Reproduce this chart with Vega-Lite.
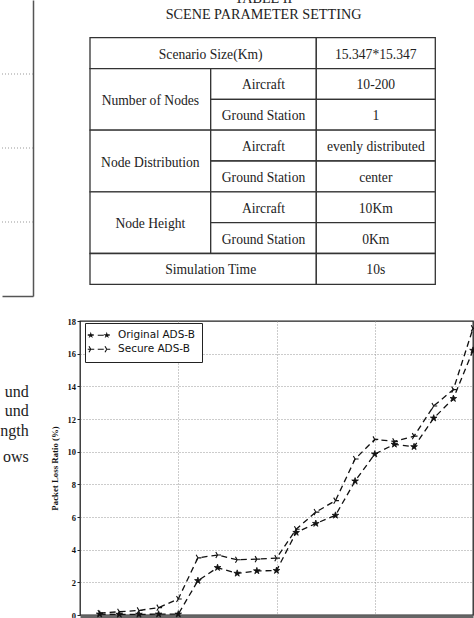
{
  "$schema": "https://vega.github.io/schema/vega-lite/v6.json",
  "padding": 0,
  "background": "white",
  "columns": 2,
  "spacing": {"row": 0, "column": 0},
  "bounds": "flush",
  "resolve": {"legend": {"shape": "independent"}},
  "config": {"view": {"stroke": null}, "font": "Liberation Serif"},
  "datasets": {
    "cells": [
      {"label": "Scenario Size(Km)", "c0": 0, "c1": 2, "r0": 0, "r1": 1},
      {"label": "15.347*15.347", "c0": 2, "c1": 3, "r0": 0, "r1": 1},
      {"label": "Number of Nodes", "c0": 0, "c1": 1, "r0": 1, "r1": 3},
      {"label": "Aircraft", "c0": 1, "c1": 2, "r0": 1, "r1": 2},
      {"label": "10-200", "c0": 2, "c1": 3, "r0": 1, "r1": 2},
      {"label": "Ground Station", "c0": 1, "c1": 2, "r0": 2, "r1": 3},
      {"label": "1", "c0": 2, "c1": 3, "r0": 2, "r1": 3},
      {"label": "Node Distribution", "c0": 0, "c1": 1, "r0": 3, "r1": 5},
      {"label": "Aircraft", "c0": 1, "c1": 2, "r0": 3, "r1": 4},
      {"label": "evenly distributed", "c0": 2, "c1": 3, "r0": 3, "r1": 4},
      {"label": "Ground Station", "c0": 1, "c1": 2, "r0": 4, "r1": 5},
      {"label": "center", "c0": 2, "c1": 3, "r0": 4, "r1": 5},
      {"label": "Node Height", "c0": 0, "c1": 1, "r0": 5, "r1": 7},
      {"label": "Aircraft", "c0": 1, "c1": 2, "r0": 5, "r1": 6},
      {"label": "10Km", "c0": 2, "c1": 3, "r0": 5, "r1": 6},
      {"label": "Ground Station", "c0": 1, "c1": 2, "r0": 6, "r1": 7},
      {"label": "0Km", "c0": 2, "c1": 3, "r0": 6, "r1": 7},
      {"label": "Simulation Time", "c0": 0, "c1": 2, "r0": 7, "r1": 8},
      {"label": "10s", "c0": 2, "c1": 3, "r0": 7, "r1": 8}
    ],
    "caption": [
      {"text": "TABLE II", "line": 0},
      {"text": "SCENE PARAMETER SETTING", "line": 1}
    ],
    "fragGrid": [{"y": 1}, {"y": 2}, {"y": 3}],
    "textLines": [
      {"text": "und", "line": 1},
      {"text": "und", "line": 2},
      {"text": "ngth", "line": 3},
      {"text": "ows", "line": 4.3}
    ],
    "loss": [
      {"series": "Original ADS-B", "aircraft": 10, "ratio": 0.05},
      {"series": "Original ADS-B", "aircraft": 20, "ratio": 0.04},
      {"series": "Original ADS-B", "aircraft": 30, "ratio": 0.04},
      {"series": "Original ADS-B", "aircraft": 40, "ratio": 0.05},
      {"series": "Original ADS-B", "aircraft": 50, "ratio": 0.05},
      {"series": "Original ADS-B", "aircraft": 60, "ratio": 2.1},
      {"series": "Original ADS-B", "aircraft": 70, "ratio": 2.9},
      {"series": "Original ADS-B", "aircraft": 80, "ratio": 2.55},
      {"series": "Original ADS-B", "aircraft": 90, "ratio": 2.7},
      {"series": "Original ADS-B", "aircraft": 100, "ratio": 2.72},
      {"series": "Original ADS-B", "aircraft": 110, "ratio": 5.05},
      {"series": "Original ADS-B", "aircraft": 120, "ratio": 5.6},
      {"series": "Original ADS-B", "aircraft": 130, "ratio": 6.1},
      {"series": "Original ADS-B", "aircraft": 140, "ratio": 8.2},
      {"series": "Original ADS-B", "aircraft": 150, "ratio": 9.85},
      {"series": "Original ADS-B", "aircraft": 160, "ratio": 10.45},
      {"series": "Original ADS-B", "aircraft": 170, "ratio": 10.3},
      {"series": "Original ADS-B", "aircraft": 180, "ratio": 12.05},
      {"series": "Original ADS-B", "aircraft": 190, "ratio": 13.25},
      {"series": "Original ADS-B", "aircraft": 200, "ratio": 16.2},
      {"series": "Secure ADS-B", "aircraft": 10, "ratio": 0.12},
      {"series": "Secure ADS-B", "aircraft": 20, "ratio": 0.2},
      {"series": "Secure ADS-B", "aircraft": 30, "ratio": 0.28},
      {"series": "Secure ADS-B", "aircraft": 40, "ratio": 0.45},
      {"series": "Secure ADS-B", "aircraft": 50, "ratio": 0.98},
      {"series": "Secure ADS-B", "aircraft": 60, "ratio": 3.5},
      {"series": "Secure ADS-B", "aircraft": 70, "ratio": 3.67},
      {"series": "Secure ADS-B", "aircraft": 80, "ratio": 3.38},
      {"series": "Secure ADS-B", "aircraft": 90, "ratio": 3.42},
      {"series": "Secure ADS-B", "aircraft": 100, "ratio": 3.48},
      {"series": "Secure ADS-B", "aircraft": 110, "ratio": 5.25},
      {"series": "Secure ADS-B", "aircraft": 120, "ratio": 6.3},
      {"series": "Secure ADS-B", "aircraft": 130, "ratio": 7.0},
      {"series": "Secure ADS-B", "aircraft": 140, "ratio": 9.55},
      {"series": "Secure ADS-B", "aircraft": 150, "ratio": 10.75},
      {"series": "Secure ADS-B", "aircraft": 160, "ratio": 10.63},
      {"series": "Secure ADS-B", "aircraft": 170, "ratio": 10.95},
      {"series": "Secure ADS-B", "aircraft": 180, "ratio": 12.8},
      {"series": "Secure ADS-B", "aircraft": 190, "ratio": 13.8},
      {"series": "Secure ADS-B", "aircraft": 200, "ratio": 17.55}
    ]
  },
  "concat": [
    {
      "width": 31,
      "height": 296,
      "data": {"name": "fragGrid"},
      "mark": {"type": "rule", "stroke": "#999", "strokeDash": [1, 2], "strokeWidth": 1},
      "encoding": {
        "x": {"datum": 0, "scale": {"domain": [0, 1], "nice": false}, "axis": {"orient": "bottom", "labels": false, "ticks": false, "grid": false, "title": null, "domainColor": "#555", "domainWidth": 1.5}},
        "x2": {"datum": 1},
        "y": {"field": "y", "type": "quantitative", "scale": {"domain": [0, 4], "nice": false}, "axis": {"orient": "right", "labels": false, "ticks": false, "grid": false, "title": null, "domainColor": "#555", "domainWidth": 1.5}}
      }
    },
    {
      "width": 396,
      "height": 321,
      "resolve": {"scale": {"x": "independent", "y": "independent"}},
      "layer": [
        {
          "data": {"name": "cells"},
          "mark": {"type": "rect", "fill": "white", "stroke": "#333", "strokeWidth": 1.3},
          "encoding": {
            "x": {"field": "c0", "type": "quantitative", "scale": {"domain": [0, 1, 2, 3], "range": [10, 130.7, 236.3, 355.3], "nice": false, "zero": false}, "axis": null},
            "x2": {"field": "c1"},
            "y": {"field": "r0", "type": "quantitative", "scale": {"domain": [0, 8], "range": [37.7, 284.3], "nice": false, "zero": false}, "axis": null},
            "y2": {"field": "r1"}
          }
        },
        {
          "data": {"name": "cells"},
          "transform": [
            {"calculate": "(datum.c0 + datum.c1) / 2", "as": "cm"},
            {"calculate": "(datum.r0 + datum.r1) / 2", "as": "rm"}
          ],
          "mark": {"type": "text", "font": "Liberation Serif", "fontSize": 13.6, "fill": "#222", "baseline": "middle", "dy": 1.5},
          "encoding": {
            "x": {"field": "cm", "type": "quantitative", "scale": {"domain": [0, 1, 2, 3], "range": [10, 130.7, 236.3, 355.3], "nice": false, "zero": false}, "axis": null},
            "y": {"field": "rm", "type": "quantitative", "scale": {"domain": [0, 8], "range": [37.7, 284.3], "nice": false, "zero": false}, "axis": null},
            "text": {"field": "label"}
          }
        },
        {
          "data": {"name": "caption"},
          "mark": {"type": "text", "clip": true, "font": "Liberation Serif", "fontSize": 14.2, "fill": "#222", "baseline": "alphabetic"},
          "encoding": {
            "x": {"datum": 1.5, "scale": {"domain": [0, 1, 2, 3], "range": [10, 130.7, 236.3, 355.3], "nice": false, "zero": false}, "axis": null},
            "y": {"field": "line", "type": "quantitative", "scale": {"domain": [0, 1], "range": [3.3, 19.3], "nice": false, "zero": false}, "axis": null},
            "text": {"field": "text"}
          }
        }
      ]
    },
    {
      "width": 78,
      "height": 294,
      "data": {"name": "textLines"},
      "mark": {"type": "text", "align": "right", "baseline": "alphabetic", "font": "Liberation Serif", "fontSize": 16, "fill": "#222"},
      "encoding": {
        "x": {"datum": 1, "scale": {"domain": [0, 1], "range": [0, 26.7], "nice": false}, "axis": null},
        "y": {"field": "line", "type": "quantitative", "scale": {"domain": [1, 4.3], "range": [75.7, 140.7], "nice": false, "zero": false}, "axis": null},
        "text": {"field": "text"}
      }
    },
    {
      "width": 393,
      "height": 294,
      "view": {"stroke": "#222", "strokeWidth": 1.3},
      "data": {"name": "loss"},
      "encoding": {
        "x": {
          "field": "aircraft", "type": "quantitative",
          "scale": {"domain": [0, 200], "nice": false},
          "axis": {
            "values": [0, 50, 100, 150, 200], "title": null, "labels": false,
            "ticks": false, "domainColor": "#666", "domainWidth": 3, "offset": 1.5,
            "grid": true, "gridColor": "#999", "gridDash": [1, 2], "gridWidth": 1,
            "gridOpacity": {"condition": {"test": "datum.value === 0 || datum.value === 200", "value": 0}, "value": 1}
          }
        },
        "y": {
          "field": "ratio", "type": "quantitative",
          "scale": {"domain": [0, 18], "nice": false},
          "axis": {
            "values": [0, 2, 4, 6, 8, 10, 12, 14, 16, 18],
            "title": "Packet Loss Ratio (%)",
            "titleFont": "Liberation Serif", "titleFontWeight": "bold", "titleFontSize": 8.8, "titleColor": "#111", "titlePadding": 8,
            "labelFont": "Liberation Serif", "labelFontWeight": "bold", "labelFontSize": 8.5, "labelColor": "#111", "labelPadding": 1.5,
            "tickSize": 3, "tickColor": "#222", "domain": false,
            "grid": true, "gridColor": "#999", "gridDash": [1, 2], "gridWidth": 1,
            "gridOpacity": {"condition": {"test": "datum.value === 0 || datum.value === 18", "value": 0}, "value": 1}
          }
        }
      },
      "layer": [
        {
          "mark": {"type": "line", "stroke": "#111", "strokeWidth": 1.3, "strokeDash": [6, 4]},
          "encoding": {"detail": {"field": "series", "type": "nominal"}}
        },
        {
          "transform": [{"filter": "datum.series === 'Original ADS-B'"}],
          "mark": {"type": "point", "shape": "M0,-1L0.2245,-0.309L0.951,-0.309L0.363,0.118L0.588,0.809L0,0.382L-0.588,0.809L-0.363,0.118L-0.951,-0.309L-0.2245,-0.309Z", "filled": true, "fill": "#111", "stroke": "#111", "strokeWidth": 0.8, "size": 49, "opacity": 1}
        },
        {
          "transform": [{"filter": "datum.series === 'Secure ADS-B'"}],
          "mark": {"type": "point", "shape": "M0,0L1,0M0,0L-0.5,-0.866M0,0L-0.5,0.866", "filled": false, "stroke": "#111", "strokeWidth": 1.1, "size": 49, "opacity": 1}
        },
        {
          "mark": {"type": "point", "filled": true, "fill": "#111", "size": 64, "opacity": 0},
          "encoding": {
            "shape": {
              "field": "series", "type": "nominal",
              "scale": {
                "domain": ["Original ADS-B", "Secure ADS-B"],
                "range": [
                  "M-2.75,-0.15L-1.25,-0.15L-1.25,0.15L-2.75,0.15ZM-0.25,-0.15L1.25,-0.15L1.25,0.15L-0.25,0.15ZM2.25,-0.15L2.75,-0.15L2.75,0.15L2.25,0.15ZM-2,-0.875L-1.804,-0.27L-1.168,-0.27L-1.682,0.103L-1.4855,0.708L-2,0.334L-2.5145,0.708L-2.318,0.103L-2.832,-0.27L-2.196,-0.27ZM2,-0.875L2.196,-0.27L2.832,-0.27L2.318,0.103L2.5145,0.708L2,0.334L1.4855,0.708L1.682,0.103L1.168,-0.27L1.804,-0.27Z",
                  "M-2.75,-0.15L-1.25,-0.15L-1.25,0.15L-2.75,0.15ZM-0.25,-0.15L1.25,-0.15L1.25,0.15L-0.25,0.15ZM2.25,-0.15L2.75,-0.15L2.75,0.15L2.25,0.15ZM-2,-0.14L-1.125,-0.14L-1.125,0.14L-2,0.14ZM-1.879,-0.07L-2.121,0.07L-2.5585,-0.688L-2.3165,-0.828ZM-1.879,0.07L-2.3165,0.828L-2.5585,0.688L-2.121,-0.07ZM2,-0.14L2.875,-0.14L2.875,0.14L2,0.14ZM2.121,-0.07L1.879,0.07L1.4415,-0.688L1.6835,-0.828ZM2.121,0.07L1.6835,0.828L1.4415,0.688L1.879,-0.07Z"
                ]
              },
              "legend": {
                "orient": "none", "legendX": 5, "legendY": 2, "title": null, "direction": "vertical",
                "strokeColor": "#222", "fillColor": "white", "padding": 7, "cornerRadius": 0,
                "labelFont": "DejaVu Sans", "labelFontSize": 10.5, "labelColor": "#111",
                "symbolSize": 64, "symbolOffset": 1.5, "labelOffset": 14, "rowPadding": 3,
                "symbolStrokeWidth": 0, "symbolOpacity": 1, "symbolFillColor": "#111"
              }
            }
          }
        }
      ]
    }
  ]
}
